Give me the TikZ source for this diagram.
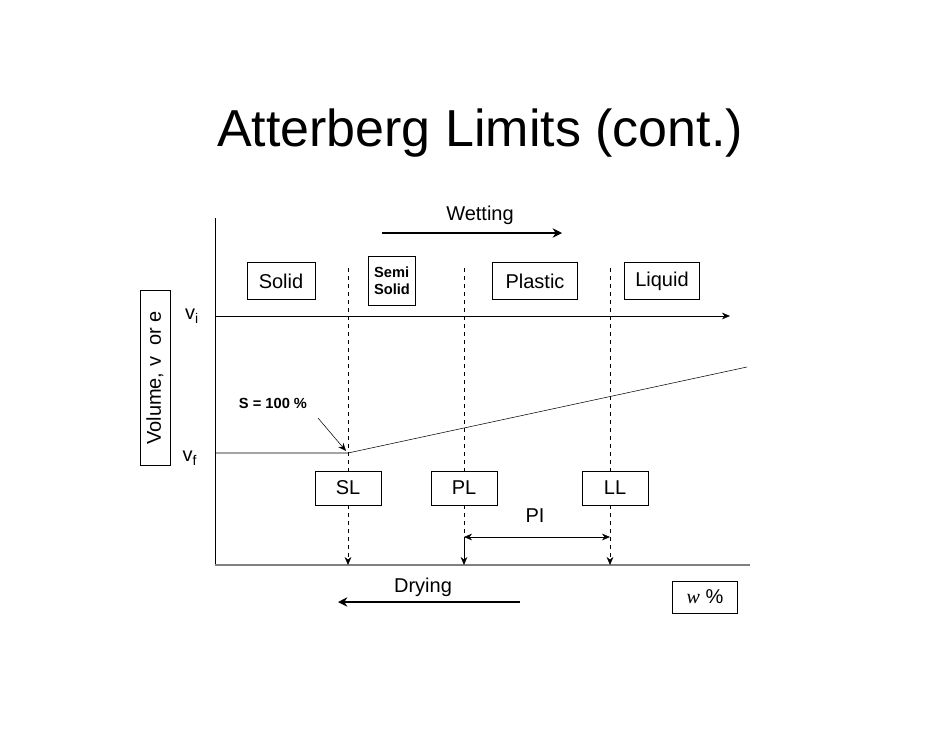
\documentclass[tikz,border=0pt]{standalone}
\usepackage{fontspec}
\setmainfont{Liberation Sans}
\newfontfamily\timesf{Liberation Serif}
\begin{document}
\begin{tikzpicture}[x=0.75pt,y=-0.75pt,
  lbl/.style={font=\fontsize{15}{17}\selectfont},
  bx/.style={draw,thin,lbl,inner sep=0pt},
  dsh/.style={dashed,thin},
  thk/.style={line width=2.2pt,-{Stealth[length=7pt,width=7pt]}}]
\useasboundingbox[fill=white] (0,0) rectangle (942,728);
\usetikzlibrary{arrows.meta}
\node (title) at (480,133) {\fontsize{39}{44}\selectfont Atterberg Limits (cont.)};
\coordinate (o) at (215,565);
\coordinate (ytop) at (215,218);
\coordinate (xend) at (750,565);
\draw[thin] (o) -- (ytop);
\draw[gray,line width=1.2pt] (o) -- (xend);
\node[lbl] (wet) at (480,215) {Wetting};
\coordinate (w1) at (382,233); \coordinate (w2) at (562,233);
\draw[thk] (w1) -- (w2);
\node[bx,minimum width=68pt*0.75,minimum height=37pt*0.75] (solid) at (281,281) {Solid};
\node[bx,minimum width=47pt*0.75,minimum height=49pt*0.75,align=left,font=\bfseries\fontsize{11}{13}\selectfont] (semi) at (392,281) {Semi\\Solid};
\node[bx,minimum width=85pt*0.75,minimum height=37pt*0.75] (plastic) at (535,281) {Plastic};
\node[bx,minimum width=75pt*0.75,minimum height=37pt*0.75] (liquid) at (662,281) {Liquid};
\node[lbl] (vi) at (192,316) {v\textsubscript{i}};
\node[lbl] (vf) at (190,458) {v\textsubscript{f}};
\coordinate (vi0) at (215,316); \coordinate (vi1) at (730,316);
\draw[thin,-{Stealth[length=6pt,width=5pt]}] (vi0) -- (vi1);
\coordinate (vf0) at (215,453); \coordinate (sl) at (348,453); \coordinate (vend) at (747,367);
\draw[thin] (vf0) -- (sl) -- (vend);
\node[bx,minimum width=66pt*0.75,minimum height=34pt*0.75] (SL) at (348,488) {SL};
\node[bx,minimum width=66pt*0.75,minimum height=34pt*0.75] (PL) at (464,488) {PL};
\node[bx,minimum width=66pt*0.75,minimum height=34pt*0.75] (LL) at (615,488) {LL};
\coordinate (d1t) at (348,268); \coordinate (d1b) at (348,565);
\coordinate (d2t) at (464,268); \coordinate (d2m) at (464,537); \coordinate (d2b) at (464,565);
\coordinate (d3t) at (610,268); \coordinate (d3b) at (610,565);
\draw[dsh] (d1t) -- (SL.north -| d1t);
\draw[dsh,-{Stealth[length=6pt,width=5pt]}] (SL.south -| d1b) -- (d1b);
\draw[dsh] (d2t) -- (PL.north -| d2t);
\draw[dsh] (PL.south -| d2t) -- (d2m);
\draw[thin,-{Stealth[length=6pt,width=5pt]}] (d2m) -- (d2b);
\draw[dsh] (d3t) -- (LL.north -| d3t);
\draw[dsh,-{Stealth[length=6pt,width=5pt]}] (LL.south -| d3b) -- (d3b);
\node[lbl] (pi) at (535,516) {PI};
\coordinate (p3) at (610,537);
\draw[thin,{Stealth[length=6pt,width=5pt]}-{Stealth[length=6pt,width=5pt]}] (d2m) -- (p3);
\node[font=\bfseries\fontsize{11}{13}\selectfont] (s100) at (273,403) {S = 100 \%};
\coordinate (sa) at (318,418); \coordinate (sb) at (346,451);
\draw[thin,-{Stealth[length=6pt,width=5pt]}] (sa) -- (sb);
\node[bx,rotate=90,minimum width=175pt*0.75,minimum height=30pt*0.75] (vol) at (155,378) {Volume, v\ \ or e};
\node[lbl] (dry) at (423,587) {Drying};
\coordinate (dr1) at (520,602); \coordinate (dr2) at (338,602);
\draw[thk] (dr1) -- (dr2);
\node[bx,minimum width=65pt*0.75,minimum height=32pt*0.75] (wp) at (705,597) {{\timesf\itshape w} \%};
\end{tikzpicture}
\end{document}
